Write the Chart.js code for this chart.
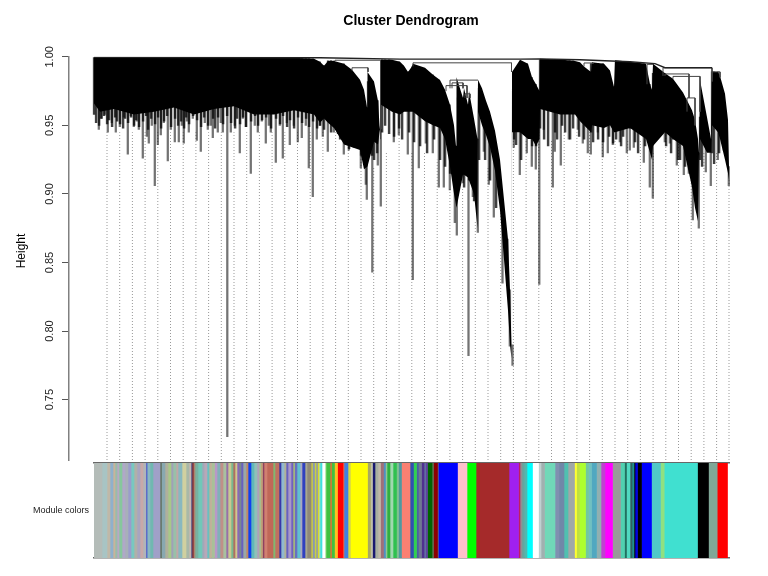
<!DOCTYPE html>
<html>
<head>
<meta charset="utf-8">
<title>Cluster Dendrogram</title>
<script src="https://cdn.jsdelivr.net/npm/chart.js@4/dist/chart.umd.min.js"></script>
<style>
    html, body { margin: 0; padding: 0; background: #fff; }
    #wrap { position: relative; width: 768px; height: 576px; overflow: hidden; }
    canvas { position: absolute; left: 0; }
    #treeChart { top: 0; }
    #colorChart { top: 460px; }
</style>
</head>
<body>
<div id="wrap">
    <canvas id="treeChart" width="768" height="462"></canvas>
    <canvas id="colorChart" width="768" height="100"></canvas>
</div>
<script>
// y axis
const heightTicks = [1.00, 0.95, 0.90, 0.85, 0.80, 0.75];

// dense part of the tree: leaf position, upper edge, lower edge
const bodyLeaf = [0, 6, 20, 40, 60, 80, 100, 120, 140, 160, 180, 200, 220, 226, 230, 234, 240, 250, 258, 266, 270, 273, 273.5, 280, 284, 285.5, 286,
    287, 298, 306, 310, 314, 317, 319, 331, 339, 346, 351, 356, 360, 362, 362.5, 369, 370, 374, 375, 380, 383.5, 384, 388, 392, 396, 401, 406, 410, 414, 416, 417.5,
    418, 426, 434, 438, 442, 445.5, 446, 466, 481, 486, 490, 497, 498, 510, 516, 520, 521, 536, 552, 556, 558, 559, 571, 579, 589, 598, 601, 604, 605,
    606, 613, 617, 618, 624, 626, 631, 634, 635];
const bodyTop = [.9995, .9995, .9995, .9995, .9995, .9995, .9995, .9995, .9995, .9995, .9993, .9993, .9985, .9964, .9934, .997, .997, .9949, .9905, .9832, .976, .963, .989, .982, .968, .95, .947,
    .9978, .9978, .9964, .9934, .989, .992, .995, .992, .9869, .983, .976, .965, .95, .935, .985, .97, .977, .965, .975, .955, .94, .9832, .977, .968, .96, .946, .925, .896, .867, .83, .79,
    .989, .9978, .9949, .985, .98, .975, .9985, .998, .997, .996, .993, .989, .996, .995, .99, .978, .9975, .9964, .995, .98, .976, .9949, .988, .984, .974, .961, .954, .94, .93,
    .983, .956, .94, .989, .989, .986, .973, .954, .92];
const bodyBottom = [.966, .96, .962, .958, .96, .963, .958, .962, .964, .958, .958, .961, .958, .952, .955, .952, .948, .936, .934, .932, .918, .92, .92, .938, .936, .945, .947,
    .965, .96, .958, .96, .96, .96, .96, .953, .95, .948, .94, .92, .90, .89, .89, .914, .914, .912, .91, .90, .875, .96, .95, .943, .934, .917, .888, .852, .815, .79, .78,
    .945, .945, .94, .94, .935, .94, .962, .958, .958, .953, .95, .945, .95, .948, .95, .945, .945, .948, .94, .93, .925, .935, .945, .94, .935, .905, .89, .88, .93,
    .94, .93, .93, .95, .945, .94, .925, .915, .91];

// short branches that make the ragged lower edge of the dense part
const fringeLeaf = [1, 3, 6, 8, 11, 14, 16, 19, 22, 24, 27, 30, 32, 35, 38, 41, 43, 46, 50, 53, 55, 58, 62, 65, 68, 71, 74, 78, 82, 85, 88, 91, 93, 96, 100, 104, 108, 111, 115, 120, 122, 125, 130, 134, 138, 142, 144, 147, 150, 153, 158, 162, 165, 169, 173, 178, 183, 187, 190, 194, 197, 201, 205, 209, 213, 216, 220, 224,
    227, 231, 235, 238, 241, 245, 247, 252, 256, 262, 268, 275, 279, 281, 284,
    289, 292, 296, 301, 306, 309, 316, 321, 327, 334, 341, 347, 352, 357, 365, 371, 376, 381, 386, 392, 397, 403,
    421, 423, 428, 435, 439, 443, 447, 451, 455, 462, 464, 469, 472, 477, 480, 486, 491, 498, 500, 505, 510, 516, 520, 523, 528, 530, 537, 542, 545, 552, 560, 564, 568, 573, 578, 580, 585, 587, 592, 596, 601, 607, 609, 613, 619, 621, 626, 632];
const fringeBottom = [.958, .952, .95, .955, .957, .951, .954, .949, .956, .953, .951, .948, .955, .952, .956, .95, .954, .949, .953, .957, .947, .955, .951, .956, .948, .953, .957, .949, .955, .95, .953, .948, .956, .951, .957, .954, .949, .956, .95, .955, .948, .956, .951, .957, .952, .948, .955, .951, .956, .949, .953, .957, .95, .954, .956, .948, .955, .951, .957, .949, .954, .948, .956, .952, .955, .949, .953, .948,
    .95, .947, .953, .945, .95, .944, .94, .938, .933, .935, .928, .93, .928, .925, .93,
    .945, .95, .944, .942, .948, .94, .945, .938, .935, .93, .94, .925, .92, .915, .918, .905, .91, .895, .925, .925, .91, .89,
    .94, .936, .925, .942, .935, .935, .948, .94, .935, .945, .94, .95, .945, .94, .948, .942, .94, .945, .938, .94, .938, .942, .937, .94, .935, .942, .948, .938, .93, .935, .945, .942, .945, .935, .93, .94, .925, .925, .92, .918, .905, .925, .92, .935, .93, .922, .93, .935, .93, .925];

// single long branches hanging below the dense part
const spikeLeaf = [4, 7, 10, 13, 17, 21, 25, 29, 33, 36, 39, 42, 44, 48, 52, 54, 57, 60, 63, 66, 69, 73, 76, 80, 84, 87, 89, 92, 94, 98, 102, 106, 110, 113, 116, 118, 123, 126, 128, 132.5,
    136, 140, 145, 148, 151, 156, 160, 163, 167, 171, 174, 176, 181, 185, 188, 192, 195, 199, 203, 207, 211, 214, 218, 222, 225, 228, 233, 236, 239, 243, 249, 254, 259, 266, 271, 272, 277.5, 283, 286,
    299, 304, 313, 318, 324, 331, 338, 344, 349, 355, 360, 362, 368, 373.7, 378, 383, 389, 394, 399, 406, 407.7, 412.7, 415, 417.7,
    419, 425, 432, 437, 441, 444.5, 449, 458, 460, 466, 474, 483, 488, 493, 496, 503, 508, 513, 518, 525, 532, 535, 539, 549, 555, 558, 562, 570, 575, 582, 589, 594, 598, 604, 611, 616, 623, 629, 634];
const spikeBottom = [.947, .955, .958, .945, .952, .945, .949, .956, .929, .957, .949, .953, .947, .926, .942, .937, .95, .906, .936, .943, .952, .924, .947, .938, .938, .95, .937, .953, .945, .955, .939, .931, .952, .947, .95, .941, .945, .952, .945, .723,
    .945, .95, .93, .955, .949, .915, .95, .945, .953, .937, .95, .945, .923, .95, .926, .952, .936, .95, .938, .941, .95, .919, .898, .94, .95, .942, .931, .952, .945, .95, .929, .932, .934, .919, .907, .896, .843, .921, .891,
    .938, .943, .929, .8375, .919, .937, .93, .905, .905, .903, .879, .87, .908, .782, .898, .872, .931, .907, .883, .898, .835, .839, .789, .775,
    .934, .914, .93, .92, .918, .834, .947, .905, .931, .921, .94, .947, .937, .93, .929, .945, .927, .93, .936, .938, .93, .932, .934, .923, .905, .897, .94, .938, .937, .921, .914, .915, .881, .875, .916, .906, .925, .932, .906];

// dotted guide lines from the axis floor up to the tree
const guideLeaf = [13, 25.7, 38.4, 51.1, 63.8, 76.5, 89.2, 101.9, 114.6, 127.3, 140, 152.7, 165.4, 178.1, 190.8, 203.5, 216.2, 228.9, 241.6, 254.3, 267, 279.7, 292.4, 305.1, 317.8,
    330.5, 343.2, 355.9, 368.6, 381.3, 394, 406.7, 419.4, 432.1, 444.8, 457.5, 470.2, 482.9, 495.6, 508.3, 521, 533.7, 546.4, 559.1, 571.8, 584.5, 597.2, 609.9, 622.6, 635];
const guideTop = [.945, .945, .945, .945, .945, .945, .945, .945, .945, .945, .945, .945, .945, .945, .945, .945, .945, .945, .945, .935, .93, .92, .93, .945, .93,
    .93, .925, .905, .905, .88, .92, .89, .94, .94, .945, .94, .945, .945, .945, .94, .94, .94, .94, .93, .945, .94, .93, .93, .93, .91];

// merges: left leaf, right leaf, merge height and where each side drops to
const mergeLeft = [241, 258, 319, 356, 352, 358, 371, 490, 553, 569, 579, 571, 593, 618];
const mergeRight = [286.5, 274, 417.5, 384, 373, 369, 376, 499, 559, 618, 606, 595, 601, 626];
const mergeHeight = [.9975, .992, .9956, .983, .979, .981, .973, .9955, .9945, .992, .9857, .9875, .97, .989];
const mergeDropLeft = [.997, .99, .993, .977, .975, .977, .97, .993, .98, .986, .984, .986, .96, .985];
const mergeDropRight = [.94, .989, .989, .983, .97, .977, .97, .995, .9945, .982, .96, .97, .95, .985];

// top spine of the tree
const spineLeaf = [0, 226, 306, 426, 446, 486, 536, 561, 571, 618];
const spineHeight = [.9997, .9993, .9983, .9983, .9985, .9978, .9964, .995, .992, .992];

// module colour strip, left to right
const moduleWidths = [8, 5, 3, 3, 2, 2, 2, 3, 3, 3, 3, 3, 3, 3, 3, 3, 1, 3, 3, 7, 1.5, 3.5, 3, 3, 2, 3, 2, 4, 4, 3, 2, 1, 1.5, 1.5, 3, 4, 2, 3, 2, 2.5, 3, 2.5, 3, 3, 3, 2, 3, 2, 2, 2, 2, 2, 2,
    3, 2, 3, 3, 3, 2, 1.5, 2, 1.5, 3, 6, 2, 4,
    2, 3, 2, 2, 3, 2, 1.5, 2.5, 3, 2, 3, 2, 4, 1.5, 2, 1.5, 1.5, 1.5, 1, 2, 3, 1, 4, 1.5, 3, 3, 5.5, 1, 4, 2.5, 17, 3, 2, 2.5, 3, 2.5, 3, 2, 1.5, 3, 3, 3.5, 2, 3, 8.5, 3.5, 3, 2, 3, 2.5, 1.5, 2, 4.5, 1.5, 4, 1, 19, 9.5, 9, 33,
    9.5, 1.5, 2, 2.5, 2.5, 5.5, 6, 2.5, 3.5, 10.5, 4, 5, 4, 6.5, 2, 3, 6, 3, 3, 5, 4.5, 4, 7.5, 8, 4, 2, 3.5, 2, 2, 1, 2.5, 4, 10, 9, 3.7, 33.3, 11, 8.7, 10.3];
const moduleColors = ['#b4bcb8', '#a8c4c4', '#c0b8a8', '#8fb0cc', '#c8b49a', '#98bcaa', '#b8a8c4', '#86c89c', '#b0a8c8', '#a8b0b8', '#9a9ccc', '#78c8c0', '#b0b0a8', '#a8a4c0', '#c8a8a8', '#b0b4b8', '#3848d0', '#88b8c0', '#70b8b0', '#a0a0c8', '#607060', '#88a8b0', '#b0b09c', '#a8c888', '#a0a0b8', '#98c0a8', '#c0a8a8', '#88b8c0', '#d0d0a0', '#a8b8a8', '#c8b8b0', '#404880', '#903838', '#a88870', '#78b0a0', '#70c8b8', '#a0a8b8', '#b8a8b8', '#68c0c0', '#c0b098', '#a8c098', '#b898c8', '#80b0b8', '#c09088', '#a8c0a0', '#9870a8', '#c8c890', '#78b890', '#b07060', '#d0c890', '#8868b8', '#788890', '#6860c0',
    '#98a8a8', '#c08868', '#1040f0', '#60b8b8', '#90c0b8', '#b0a0b8', '#a0c090', '#c0a078', '#904060', '#d08070', '#c06858', '#80b870', '#c07060',
    '#3838a8', '#90b8d0', '#b0b098', '#6860c0', '#a898c8', '#7060c0', '#a8c070', '#6870c0', '#60c0d0', '#a8a8c0', '#3040c0', '#a8a890', '#908878', '#c8c840', '#8898b0', '#c8d040', '#9098a8', '#d8d830', '#a0e0c0', '#40e0e0', '#ffffff', '#a0e090', '#40c040', '#e07030', '#40c040', '#ffc020', '#ff0000', '#e07050', '#4080e0', '#d8d840', '#ffff00', '#a8a860', '#c0c0a8', '#191970', '#a8b0a0', '#c0b8a8', '#a07078', '#5090c0', '#90c890', '#30b040', '#a0d8b0', '#30c050', '#80c090', '#5098a0', '#fa8072', '#3050b0', '#30d050', '#4860a0', '#707890', '#503090', '#6070a0', '#6040a0', '#006400', '#607050', '#8b0000', '#505090', '#0000ff', '#ffc0cb', '#00ff00', '#a52a2a',
    '#a020f0', '#c02060', '#909090', '#60a8a0', '#50b8b0', '#00ffff', '#ffffff', '#c0d0d0', '#a0b0b0', '#70d8b8', '#8090b0', '#7088a8', '#50c0b0', '#a0a8a8', '#ffff30', '#c0e040', '#adff2f', '#70c8a0', '#70c0c0', '#50a8c0', '#90b0b0', '#c040d0', '#ff00ff', '#999999', '#50d0b0', '#207060', '#50d8c0', '#306060', '#209090', '#000000', '#0000e0', '#000000', '#0000ff', '#50c8c8', '#90e080', '#40e0d0', '#000000', '#80a898', '#ff0000'];

const FONT = '"Liberation Sans", Arial, sans-serif';

// upper edge of the dense part around a leaf, so branches start inside it
function topAt(leaf) {
    let i = 0;
    while (i < bodyLeaf.length - 2 && bodyLeaf[i + 1] <= leaf) i++;
    return Math.min(bodyTop[i], bodyTop[i + 1]);
}

function noScalePadding(scale) {
    scale.paddingTop = 0;
    scale.paddingBottom = 0;
    scale.paddingLeft = 0;
    scale.paddingRight = 0;
}

const treeDatasets = [];

treeDatasets.push({
    type: 'line',
    data: guideLeaf.flatMap((x, i) => [{ x: x, y: 0.706 }, { x: x, y: guideTop[i] }, { x: x, y: null }]),
    borderColor: '#999',
    borderWidth: 1,
    borderDash: [1, 2],
    pointRadius: 0,
    spanGaps: false,
    order: 6
});
treeDatasets.push({
    type: 'bar',
    data: spikeLeaf.map((x, i) => ({ x: x, y: [spikeBottom[i], topAt(x)] })),
    backgroundColor: 'rgba(0, 0, 0, 0.55)',
    barThickness: 1.6,
    order: 5
});
treeDatasets.push({
    type: 'bar',
    data: fringeLeaf.map((x, i) => ({ x: x, y: [fringeBottom[i], topAt(x)] })),
    backgroundColor: 'rgba(0, 0, 0, 0.75)',
    barThickness: 1.8,
    order: 4
});
treeDatasets.push({
    type: 'line',
    data: bodyLeaf.map((x, i) => ({ x: x, y: bodyTop[i] })),
    borderWidth: 0,
    pointRadius: 0,
    backgroundColor: '#000',
    fill: '+1',
    order: 3
});
treeDatasets.push({
    type: 'line',
    data: bodyLeaf.map((x, i) => ({ x: x, y: bodyBottom[i] })),
    borderWidth: 0,
    pointRadius: 0,
    order: 3
});
mergeLeft.forEach((left, i) => {
    treeDatasets.push({
        type: 'line',
        data: [
            { x: left, y: mergeDropLeft[i] },
            { x: left, y: mergeHeight[i] },
            { x: mergeRight[i], y: mergeHeight[i] },
            { x: mergeRight[i], y: mergeDropRight[i] }
        ],
        borderColor: '#444',
        borderWidth: 1,
        pointRadius: 0,
        order: 2
    });
});
treeDatasets.push({
    type: 'line',
    data: spineLeaf.map((x, i) => ({ x: x, y: spineHeight[i] })),
    borderColor: '#222',
    borderWidth: 1.4,
    pointRadius: 0,
    order: 1
});

// the R plot has its axis title off the middle of the axis line
const heightLabel = {
    id: 'heightLabel',
    afterDraw(chart) {
        const ctx = chart.ctx;
        ctx.save();
        ctx.translate(22, 251);
        ctx.rotate(-Math.PI / 2);
        ctx.fillStyle = '#000';
        ctx.font = '12px ' + FONT;
        ctx.textAlign = 'center';
        ctx.textBaseline = 'middle';
        ctx.fillText('Height', 0, 0);
        ctx.restore();
    }
};

new Chart(document.getElementById('treeChart').getContext('2d'), {
    type: 'bar',
    data: { datasets: treeDatasets },
    plugins: [heightLabel],
    options: {
        responsive: false,
        animation: false,
        layout: { padding: { left: 0, right: 15, top: 0, bottom: 2 } },
        plugins: {
            legend: { display: false },
            tooltip: { enabled: false },
            title: {
                display: true,
                text: 'Cluster Dendrogram',
                fullSize: false,
                color: '#000',
                font: { family: FONT, size: 14, weight: 'bold' },
                padding: { top: 13, bottom: 27 }
            }
        },
        scales: {
            x: { type: 'linear', display: false, offset: false, min: -25, max: 659 },
            y: {
                min: 0.706,
                max: 1.0,
                afterFit: scale => { scale.width = 69; noScalePadding(scale); },
                afterBuildTicks: scale => { scale.ticks = heightTicks.map(v => ({ value: v })); },
                border: { color: '#808080', width: 1.5 },
                grid: { drawOnChartArea: false, tickLength: 7, color: '#555' },
                ticks: {
                    color: '#222',
                    font: { family: FONT, size: 11 },
                    minRotation: 90,
                    maxRotation: 90,
                    crossAlign: 'center',
                    padding: 1,
                    callback: v => v.toFixed(2)
                }
            }
        }
    }
});

new Chart(document.getElementById('colorChart').getContext('2d'), {
    type: 'bar',
    data: {
        labels: ['Module colors'],
        datasets: moduleWidths.map((w, i) => ({
            data: [w],
            backgroundColor: moduleColors[i],
            borderWidth: 0,
            barPercentage: 1,
            categoryPercentage: 1
        }))
    },
    options: {
        indexAxis: 'y',
        responsive: false,
        animation: false,
        layout: { padding: { left: 0, right: 39, top: 3, bottom: 2 } },
        plugins: { legend: { display: false }, tooltip: { enabled: false } },
        scales: {
            x: {
                stacked: true,
                min: 0,
                max: 635,
                grid: { display: false },
                ticks: { display: false },
                border: { color: 'rgba(40, 40, 40, 0.7)', width: 1.5 },
                afterFit: scale => { scale.height = 0; noScalePadding(scale); }
            },
            x2: {
                position: 'top',
                min: 0,
                max: 635,
                grid: { display: false },
                ticks: { display: false },
                border: { color: 'rgba(40, 40, 40, 0.7)', width: 1.5 },
                afterFit: scale => { scale.height = 0; noScalePadding(scale); }
            },
            y: {
                stacked: true,
                afterFit: scale => { scale.width = 94; noScalePadding(scale); },
                grid: { display: false, drawTicks: false, tickLength: 0 },
                border: { display: false },
                ticks: {
                    color: '#222',
                    font: { family: FONT, size: 9 },
                    padding: 5
                }
            }
        }
    }
});
</script>
</body>
</html>
